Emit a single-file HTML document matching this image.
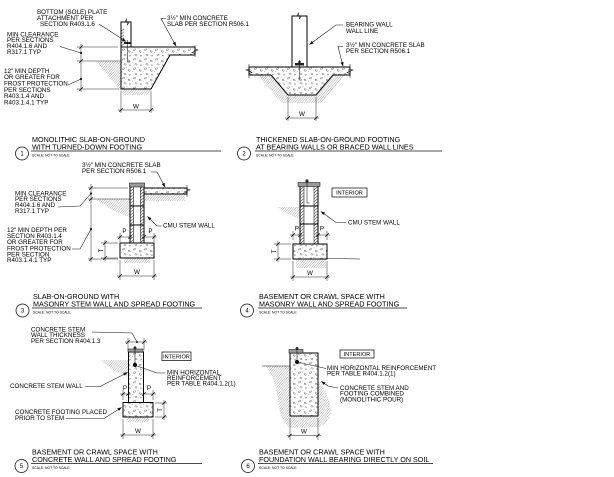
<!DOCTYPE html>
<html><head><meta charset="utf-8"><style>
html,body{margin:0;padding:0;background:#fff;}
svg{display:block;}
text{font-family:"Liberation Sans",Arial,sans-serif;fill:#000;}
.l{font-size:6.25px;}
.t{font-size:7.2px;}
.s{font-size:3.4px;}
.n{font-size:6px;text-anchor:middle;}
.i{font-size:5.6px;text-anchor:middle;}
.o{stroke:#000;stroke-width:1;}
.d{fill:none;stroke:#222;stroke-width:0.5;}
.ld{fill:none;stroke:#111;stroke-width:0.55;}
.c{fill:none;stroke:#111;stroke-width:0.75;}
.cap{fill:#999;stroke:#111;stroke-width:0.55;}
.box{fill:#fff;stroke:#111;stroke-width:0.75;}
</style></head><body>
<svg width="614" height="477" viewBox="0 0 614 477" xmlns="http://www.w3.org/2000/svg">
<defs>
<pattern id="conc" width="11" height="9.5" patternUnits="userSpaceOnUse">
<rect width="11" height="9.5" fill="#fff"/>
<ellipse cx="2.5" cy="2.2" rx="1.3" ry="0.7" transform="rotate(-25 2.5 2.2)" fill="none" stroke="#666" stroke-width="0.45"/>
<ellipse cx="8.2" cy="4" rx="1.1" ry="0.65" transform="rotate(30 8.2 4)" fill="none" stroke="#666" stroke-width="0.45"/>
<ellipse cx="4" cy="7.4" rx="1.2" ry="0.65" transform="rotate(10 4 7.4)" fill="none" stroke="#666" stroke-width="0.45"/>
<path d="M8.5 7.6 l1.3 0.5 l-1.1 0.8 z" fill="none" stroke="#666" stroke-width="0.4"/>
<circle cx="6" cy="1" r="0.35" fill="#666"/>
<circle cx="0.8" cy="5.2" r="0.35" fill="#666"/>
</pattern>
<pattern id="soil" width="1.8" height="1.8" patternUnits="userSpaceOnUse" patternTransform="rotate(40)">
<line x1="0" y1="0" x2="0" y2="1.8" stroke="#555" stroke-width="0.5"/>
</pattern>
<pattern id="cmu" width="3.5" height="3" patternUnits="userSpaceOnUse">
<path d="M0 3 L3.5 0" stroke="#333" stroke-width="0.55"/>
</pattern>
<marker id="ar" viewBox="0 0 10 10" refX="9" refY="5" markerWidth="4.5" markerHeight="4.5" markerUnits="userSpaceOnUse" orient="auto"><path d="M0 1.5 L10 5 L0 8.5 z" fill="#111"/></marker>
<path id="tk" d="M-1.7 1.7 L1.7 -1.7" stroke="#111" stroke-width="0.75"/>
</defs>

<!-- ================= PANEL 1 ================= -->
<path d="M96 61 L121 61 L121 89 L151 89 L148 95 L124 95 Q110 78 96 61 Z" fill="url(#soil)"/>
<path d="M121 47 L195 47 L195 55 L170 55 L151 89 L121 89 Z" fill="url(#conc)" class="o"/>
<path d="M195 45 L195 49 L198 50 L192 52.5 L195 53.5 L195 57" class="ld"/>
<rect x="121" y="22" width="10" height="25" fill="#fff" class="o"/>
<path d="M121 22 L125 22 L126.5 19 L127.5 25 L129 22 L131 22" class="ld"/>
<rect x="121.5" y="28" width="2.5" height="19" fill="url(#cmu)"/>
<rect x="124" y="42" width="7" height="2" fill="#222"/>
<path d="M127.5 40 L127.5 62 L130 62" class="ld"/>
<!-- dims -->
<line x1="81" y1="44" x2="81" y2="92" class="d"/>
<line x1="77" y1="47" x2="118" y2="47" class="d"/>
<line x1="77" y1="61" x2="121" y2="61" class="d"/>
<line x1="77" y1="89" x2="119" y2="89" class="d"/>
<use href="#tk" x="81" y="47"/><use href="#tk" x="81" y="61"/><use href="#tk" x="81" y="89"/>
<circle cx="81" cy="53" r="1.1" fill="#111"/><circle cx="81" cy="79" r="1.1" fill="#111"/>
<path d="M60 46.5 L81 53" class="ld"/>
<path d="M68 85 L81 79" class="ld"/>
<line x1="121" y1="91" x2="121" y2="113" class="d"/>
<line x1="151" y1="91" x2="151" y2="113" class="d"/>
<line x1="118" y1="110" x2="154" y2="110" class="d"/>
<use href="#tk" x="121" y="110"/><use href="#tk" x="151" y="110"/>
<text x="136" y="108.5" class="l" text-anchor="middle">W</text>
<path d="M99 24 L126 41.5" class="ld" marker-end="url(#ar)"/>
<path d="M166 18.5 L161 18.5 L176 46" class="ld" marker-end="url(#ar)"/>
<text class="l"><tspan x="37" y="13.9">BOTTOM (SOLE) PLATE</tspan><tspan x="37" y="19.9">ATTACHMENT PER</tspan><tspan x="40" y="26.2">SECTION R403.1.6</tspan></text>
<text class="l"><tspan x="167" y="19.8">3½" MIN CONCRETE</tspan><tspan x="167" y="26">SLAB PER SECTION R506.1</tspan></text>
<text class="l"><tspan x="7" y="36.5">MIN CLEARANCE</tspan><tspan x="7" y="42.2">PER SECTIONS</tspan><tspan x="7" y="47.9">R404.1.6 AND</tspan><tspan x="7" y="53.9">R317.1 TYP</tspan></text>
<text class="l"><tspan x="4" y="73.2">12" MIN DEPTH</tspan><tspan x="4" y="78.9">OR GREATER FOR</tspan><tspan x="4" y="85.5">FROST PROTECTION</tspan><tspan x="4" y="92.2">PER SECTIONS</tspan><tspan x="4" y="98.2">R403.1.4 AND</tspan><tspan x="4" y="104.5">R403.1.4.1 TYP</tspan></text>

<!-- title 1 -->
<g transform="translate(0,142)">
<circle cx="22" cy="11.5" r="6.5" class="c"/><text x="22" y="13.7" class="n">1</text>
<text x="32" y="0" class="t">MONOLITHIC SLAB-ON-GROUND</text>
<text x="32" y="7.7" class="t">WITH TURNED-DOWN FOOTING</text>
<line x1="31" y1="9" x2="221" y2="9" class="c"/>
<text x="32" y="14.5" class="s">SCALE: NOT TO SCALE</text>
</g>

<!-- ================= PANEL 2 ================= -->
<path d="M258 75 L271 75 L288 95 L316 95 L333 75 L344 75 L338 84 L322 103 L282 103 L265 84 Z" fill="url(#soil)"/>
<path d="M249 67 L350 67 L350 75 L333 75 L316 95 L288 95 L271 75 L249 75 Z" fill="url(#conc)" class="o"/>
<path d="M249 64 L249 69 L246 70 L252 72.5 L249 73.5 L249 78" class="ld"/>
<path d="M350 64 L350 69 L353 70 L347 72.5 L350 73.5 L350 78" class="ld"/>
<rect x="292" y="16" width="15" height="51" fill="#fff" class="o"/>
<path d="M292 16 L297 16 L298.5 13 L299.5 19 L301 16 L307 16" class="ld"/>
<rect x="295" y="63" width="9" height="2.5" fill="#222"/>
<circle cx="299.5" cy="62" r="1.3" fill="#222"/>
<path d="M299.5 60 L299.5 80 L302 80" class="ld"/>
<line x1="288" y1="97" x2="288" y2="121" class="d"/>
<line x1="316" y1="97" x2="316" y2="121" class="d"/>
<line x1="285" y1="118" x2="319" y2="118" class="d"/>
<use href="#tk" x="288" y="118"/><use href="#tk" x="316" y="118"/>
<text x="302" y="116" class="l" text-anchor="middle">W</text>
<path d="M343 25 L336 25 L309.5 44.5" class="ld" marker-end="url(#ar)"/>
<path d="M343 46.5 L338 46.5 L343 66" class="ld" marker-end="url(#ar)"/>
<text class="l"><tspan x="346" y="26.5">BEARING WALL</tspan><tspan x="346" y="32.8">WALL LINE</tspan></text>
<text class="l"><tspan x="346" y="47.2">3½" MIN CONCRETE SLAB</tspan><tspan x="346" y="53.2">PER SECTION R506.1</tspan></text>

<g transform="translate(0,142)">
<circle cx="244" cy="11.5" r="6.5" class="c"/><text x="244" y="13.7" class="n">2</text>
<text x="256" y="0" class="t">THICKENED SLAB-ON-GROUND FOOTING</text>
<text x="256" y="7.7" class="t">AT BEARING WALLS OR BRACED WALL LINES</text>
<line x1="255" y1="9" x2="442" y2="9" class="c"/>
<text x="256" y="14.5" class="s">SCALE: NOT TO SCALE</text>
</g>

<!-- ================= PANEL 3 ================= -->
<path d="M96 199 L130 199 L130 217 Q112 212 96 199 Z" fill="url(#soil)"/>
<line x1="88" y1="199" x2="130" y2="199" class="d"/>
<rect x="144" y="194" width="41" height="7" fill="url(#soil)"/>
<rect x="144" y="188" width="43" height="6" fill="url(#conc)" class="o"/>
<path d="M187 185 L187 189 L190 190 L184 192 L187 193 L187 197" class="ld"/>
<rect x="124" y="258" width="26" height="5" fill="url(#soil)"/>
<rect x="130" y="186" width="14" height="58" fill="#fff" class="o"/>
<rect x="130.4" y="187" width="3.2" height="57" fill="url(#cmu)"/>
<rect x="140.4" y="187" width="3.2" height="57" fill="url(#cmu)"/>
<line x1="133.6" y1="187" x2="133.6" y2="244" class="ld"/>
<line x1="140.4" y1="187" x2="140.4" y2="244" class="ld"/>
<line x1="130" y1="206" x2="144" y2="206" class="o"/>
<line x1="130" y1="225" x2="144" y2="225" class="o"/>
<rect x="129.5" y="183" width="15" height="4" class="cap"/>
<rect x="120" y="243" width="34" height="15" fill="url(#conc)" class="o"/>
<!-- dims -->
<line x1="91" y1="184" x2="91" y2="262" class="d"/>
<line x1="88" y1="188" x2="128" y2="188" class="d"/>
<line x1="88" y1="259" x2="118" y2="259" class="d"/>
<use href="#tk" x="91" y="188"/><use href="#tk" x="91" y="199"/><use href="#tk" x="91" y="259"/>
<circle cx="91" cy="193.5" r="1.1" fill="#111"/><circle cx="91" cy="229" r="1.1" fill="#111"/>
<path d="M58 207 L80 206 L91 193.5" class="ld"/>
<path d="M72 249 L80 249 L91 229" class="ld"/>
<line x1="120" y1="233" x2="120" y2="242" class="d"/>
<line x1="154" y1="233" x2="154" y2="242" class="d"/>
<line x1="117" y1="237" x2="132" y2="237" class="d"/>
<line x1="142" y1="237" x2="157" y2="237" class="d"/>
<use href="#tk" x="120" y="237"/><use href="#tk" x="130" y="237"/><use href="#tk" x="144" y="237"/><use href="#tk" x="154" y="237"/>
<text x="124.5" y="233" class="l" text-anchor="middle">P</text>
<text x="150.5" y="233" class="l" text-anchor="middle">P</text>
<line x1="101" y1="243" x2="118" y2="243" class="d"/>
<line x1="101" y1="258" x2="118" y2="258" class="d"/>
<line x1="105" y1="240" x2="105" y2="261" class="d"/>
<use href="#tk" x="105" y="243"/><use href="#tk" x="105" y="258"/>
<text transform="translate(103,250.5) rotate(-90)" class="l" text-anchor="middle">T</text>
<line x1="120" y1="260" x2="120" y2="280" class="d"/>
<line x1="154" y1="260" x2="154" y2="280" class="d"/>
<line x1="117" y1="276" x2="157" y2="276" class="d"/>
<use href="#tk" x="120" y="276"/><use href="#tk" x="154" y="276"/>
<text x="137" y="274" class="l" text-anchor="middle">W</text>
<path d="M162 226 L157 226 L147.5 216.5" class="ld" marker-end="url(#ar)"/>
<path d="M151 172 L157 172 L165 187" class="ld" marker-end="url(#ar)"/>
<text class="l"><tspan x="82" y="167.2">3½" MIN CONCRETE SLAB</tspan><tspan x="82" y="173.2">PER SECTION R506.1</tspan></text>
<text class="l"><tspan x="15" y="195.5">MIN CLEARANCE</tspan><tspan x="15" y="201.2">PER SECTIONS</tspan><tspan x="15" y="207.2">R404.1.6 AND</tspan><tspan x="15" y="212.9">R317.1 TYP</tspan></text>
<text class="l"><tspan x="7" y="232.2">12" MIN DEPTH PER</tspan><tspan x="7" y="238.2">SECTION R403.1.4</tspan><tspan x="7" y="243.9">OR GREATER FOR</tspan><tspan x="7" y="250.5">FROST PROTECTION</tspan><tspan x="7" y="256.5">PER SECTION</tspan><tspan x="7" y="262.2">R403.1.4.1 TYP</tspan></text>
<text x="163" y="227.3" class="l">CMU STEM WALL</text>

<g transform="translate(0,299)">
<circle cx="22.5" cy="11.5" r="6.5" class="c"/><text x="22.5" y="13.7" class="n">3</text>
<text x="33" y="0" class="t">SLAB-ON-GROUND WITH</text>
<text x="33" y="7.7" class="t">MASONRY STEM WALL AND SPREAD FOOTING</text>
<line x1="32" y1="9" x2="202" y2="9" class="c"/>
<text x="33" y="14.5" class="s">SCALE: NOT TO SCALE</text>
</g>

<!-- ================= PANEL 4 ================= -->
<path d="M277 207 L300 207 L300 219 Q288 215 277 207 Z" fill="url(#soil)"/>
<rect x="296" y="259" width="30" height="9" fill="url(#soil)"/>
<line x1="327" y1="258.5" x2="360" y2="259" class="ld"/>
<rect x="300" y="186" width="18" height="58" fill="#fff" class="o"/>
<rect x="300.4" y="187" width="3.6" height="57" fill="url(#cmu)"/>
<rect x="314" y="187" width="3.6" height="57" fill="url(#cmu)"/>
<line x1="304" y1="187" x2="304" y2="244" class="ld"/>
<line x1="314" y1="187" x2="314" y2="244" class="ld"/>
<line x1="300" y1="206" x2="318" y2="206" class="o"/>
<line x1="300" y1="224" x2="318" y2="224" class="o"/>
<rect x="298" y="182.5" width="22" height="4" class="cap"/>
<circle cx="307" cy="181" r="1.6" fill="#333"/>
<path d="M307 180 L307 203 L309.5 203" class="ld"/>
<rect x="293" y="244" width="34" height="15" fill="url(#conc)" class="o"/>
<rect x="332" y="188" width="35" height="9" class="box"/>
<text x="349.5" y="194.6" class="i">INTERIOR</text>
<line x1="293" y1="231" x2="293" y2="240" class="d"/>
<line x1="327" y1="231" x2="327" y2="240" class="d"/>
<line x1="290" y1="235" x2="302" y2="235" class="d"/>
<line x1="316" y1="235" x2="330" y2="235" class="d"/>
<use href="#tk" x="293" y="235"/><use href="#tk" x="300" y="235"/><use href="#tk" x="318" y="235"/><use href="#tk" x="327" y="235"/>
<text x="297" y="230.5" class="l" text-anchor="middle">P</text>
<text x="322" y="230.5" class="l" text-anchor="middle">P</text>
<line x1="274" y1="244" x2="291" y2="244" class="d"/>
<line x1="274" y1="259" x2="291" y2="259" class="d"/>
<line x1="278" y1="241" x2="278" y2="262" class="d"/>
<use href="#tk" x="278" y="244"/><use href="#tk" x="278" y="259"/>
<text transform="translate(276,251.5) rotate(-90)" class="l" text-anchor="middle">T</text>
<line x1="293" y1="261" x2="293" y2="281" class="d"/>
<line x1="327" y1="261" x2="327" y2="281" class="d"/>
<line x1="290" y1="277" x2="330" y2="277" class="d"/>
<use href="#tk" x="293" y="277"/><use href="#tk" x="327" y="277"/>
<text x="310" y="275" class="l" text-anchor="middle">W</text>
<path d="M346 222.5 L336 222.5 L321 211.5" class="ld" marker-end="url(#ar)"/>
<text x="348" y="224.3" class="l">CMU STEM WALL</text>

<g transform="translate(0,299)">
<circle cx="247" cy="11.5" r="6.5" class="c"/><text x="247" y="13.7" class="n">4</text>
<text x="259" y="0" class="t">BASEMENT OR CRAWL SPACE WITH</text>
<text x="259" y="7.7" class="t">MASONRY WALL AND SPREAD FOOTING</text>
<line x1="258" y1="9" x2="407" y2="9" class="c"/>
<text x="259" y="14.5" class="s">SCALE: NOT TO SCALE</text>
</g>

<!-- ================= PANEL 5 ================= -->
<path d="M101 360 L128 360 L128 377 Q113 372 101 360 Z" fill="url(#soil)"/>
<rect x="127" y="417" width="22" height="5" fill="url(#soil)"/>
<rect x="128.5" y="352" width="15" height="51" fill="url(#conc)" class="o"/>
<rect x="128" y="349" width="15" height="3" class="cap"/>
<circle cx="135" cy="348" r="1.5" fill="#333"/>
<line x1="135" y1="346" x2="135" y2="363" class="ld"/>
<circle cx="135" cy="365" r="2.1" fill="#111"/>
<rect x="123" y="402.5" width="30" height="14.5" fill="url(#conc)" class="o"/>
<rect x="162" y="352" width="29" height="8.5" class="box"/>
<text x="176.5" y="358.6" class="i">INTERIOR</text>
<line x1="128" y1="338" x2="128" y2="350" class="d"/>
<line x1="144" y1="338" x2="144" y2="350" class="d"/>
<line x1="125" y1="342" x2="147" y2="342" class="d"/>
<use href="#tk" x="128" y="342"/><use href="#tk" x="144" y="342"/>
<circle cx="137" cy="342" r="1" fill="#111"/>
<path d="M92 332 L132 333 L137 342" class="ld"/>
<line x1="123" y1="390" x2="123" y2="400" class="d"/>
<line x1="153" y1="390" x2="153" y2="400" class="d"/>
<line x1="120" y1="394" x2="131" y2="394" class="d"/>
<line x1="141" y1="394" x2="156" y2="394" class="d"/>
<use href="#tk" x="123" y="394"/><use href="#tk" x="128" y="394"/><use href="#tk" x="144" y="394"/><use href="#tk" x="153" y="394"/>
<text x="125" y="390" class="l" text-anchor="middle">P</text>
<text x="149" y="390" class="l" text-anchor="middle">P</text>
<line x1="155" y1="403" x2="167" y2="403" class="d"/>
<line x1="155" y1="417" x2="167" y2="417" class="d"/>
<line x1="164" y1="400" x2="164" y2="420" class="d"/>
<use href="#tk" x="164" y="403"/><use href="#tk" x="164" y="417"/>
<text transform="translate(162,410) rotate(-90)" class="l" text-anchor="middle">T</text>
<line x1="123" y1="419" x2="123" y2="439" class="d"/>
<line x1="153" y1="419" x2="153" y2="439" class="d"/>
<line x1="120" y1="435" x2="156" y2="435" class="d"/>
<use href="#tk" x="123" y="435"/><use href="#tk" x="153" y="435"/>
<text x="138" y="433" class="l" text-anchor="middle">W</text>
<path d="M85 386.5 L100 386.5 L127.5 372.5" class="ld" marker-end="url(#ar)"/>
<path d="M66 418.5 L104 418.5 L121.5 407.5" class="ld" marker-end="url(#ar)"/>
<path d="M137 366 L157 373 L165 373" class="ld"/>
<text class="l"><tspan x="31" y="331.5">CONCRETE STEM</tspan><tspan x="31" y="337.2">WALL THICKNESS</tspan><tspan x="31" y="342.9">PER SECTION R404.1.3</tspan></text>
<text x="10" y="388.2" class="l">CONCRETE STEM WALL</text>
<text class="l"><tspan x="15" y="413.9">CONCRETE FOOTING PLACED</tspan><tspan x="15" y="419.9">PRIOR TO STEM</tspan></text>
<text class="l"><tspan x="167" y="374.5">MIN HORIZONTAL</tspan><tspan x="167" y="380">REINFORCEMENT</tspan><tspan x="167" y="385.5">PER TABLE R404.1.2(1)</tspan></text>

<g transform="translate(0,454.5)">
<circle cx="21.5" cy="11.5" r="6.5" class="c"/><text x="21.5" y="13.7" class="n">5</text>
<text x="32" y="0" class="t">BASEMENT OR CRAWL SPACE WITH</text>
<text x="32" y="7.7" class="t">CONCRETE WALL AND SPREAD FOOTING</text>
<line x1="31" y1="9" x2="202" y2="9" class="c"/>
<text x="32" y="14.5" class="s">SCALE: NOT TO SCALE</text>
</g>

<!-- ================= PANEL 6 ================= -->
<path d="M266 366 L290 366 L290 416 L318 416 L318 380 Q328 392 331 410 Q330 424 318 427 L290 428 Q279 420 278 400 Q276 380 266 366 Z" fill="url(#soil)"/>
<line x1="262" y1="366" x2="290" y2="366" class="ld"/>
<rect x="290" y="353" width="28" height="63" fill="url(#conc)" class="o"/>
<rect x="289" y="349.5" width="14" height="3.5" class="cap"/>
<circle cx="297" cy="348.5" r="1.5" fill="#333"/>
<line x1="297" y1="347" x2="297" y2="360" class="ld"/>
<circle cx="297" cy="362" r="2.1" fill="#111"/>
<rect x="340" y="350" width="34" height="8" class="box"/>
<text x="357" y="356.2" class="i">INTERIOR</text>
<line x1="290" y1="418" x2="290" y2="440" class="d"/>
<line x1="318" y1="418" x2="318" y2="440" class="d"/>
<line x1="287" y1="435.5" x2="321" y2="435.5" class="d"/>
<use href="#tk" x="290" y="435.5"/><use href="#tk" x="318" y="435.5"/>
<text x="304" y="433.5" class="l" text-anchor="middle">W</text>
<path d="M297 362 L326 368.5" class="ld"/>
<path d="M338 388 L328 386 L321.5 381.5" class="ld" marker-end="url(#ar)"/>
<text class="l"><tspan x="327" y="369.9">MIN HORIZONTAL REINFORCEMENT</tspan><tspan x="327" y="375.5">PER TABLE R404.1.2(1)</tspan></text>
<text class="l"><tspan x="340" y="389.9">CONCRETE STEM AND</tspan><tspan x="340" y="395.5">FOOTING COMBINED</tspan><tspan x="340" y="401.5">(MONOLITHIC POUR)</tspan></text>

<g transform="translate(0,454.5)">
<circle cx="248" cy="11.5" r="6.5" class="c"/><text x="248" y="13.7" class="n">6</text>
<text x="259" y="0" class="t">BASEMENT OR CRAWL SPACE WITH</text>
<text x="259" y="7.7" class="t">FOUNDATION WALL BEARING DIRECTLY ON SOIL</text>
<line x1="258" y1="9" x2="433" y2="9" class="c"/>
<text x="259" y="14.5" class="s">SCALE: NOT TO SCALE</text>
</g>
</svg>
</body></html>
